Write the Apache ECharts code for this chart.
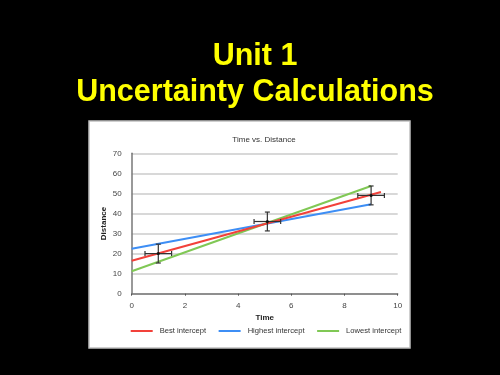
<!DOCTYPE html>
<html>
<head>
<meta charset="utf-8">
<script src="https://cdn.jsdelivr.net/npm/echarts@6/dist/echarts.min.js"></script>
<style>
html,body{margin:0;padding:0;background:#000;}
#c{width:500px;height:375px;}
</style>
</head>
<body>
<div id="c"></div>
<script>
// Data
var seriesNames = ['Best intercept', 'Highest intercept', 'Lowest intercept'];
var bestLine = [[0, 16.4], [9.37, 50.7]];
var highestLine = [[0, 22.4], [9, 44.6]];
var lowestLine = [[0, 11.2], [9, 53.7]];
var pointX = [1, 5.1, 9];
var pointY = [20, 36, 49];
var xError = [0.5, 0.5, 0.5];
var yError = [4.7, 4.7, 4.7];
var xTicks = [0, 2, 4, 6, 8, 10];
var yTicks = [0, 10, 20, 30, 40, 50, 60, 70];

var FONT = '"Liberation Sans", Arial, sans-serif';
var chart = echarts.init(document.getElementById('c'), null, {renderer: 'canvas'});
var pts = pointX.map(function (x, i) { return [x, pointY[i], xError[i], yError[i]]; });

var option = {
  backgroundColor: '#000',
  animation: false,
  graphic: [
    {type: 'rect', shape: {x: 89, y: 121, width: 321, height: 227}, style: {fill: '#fff', stroke: '#c0c0c0', lineWidth: 1.5}, z: -10},
    {type: 'text', x: 255, y: 57, style: {text: 'Unit 1', fill: '#ffff00', align: 'center', verticalAlign: 'middle', font: 'bold 30.5px "Liberation Sans", Arial, sans-serif'}},
    {type: 'text', x: 255, y: 92.5, style: {text: 'Uncertainty Calculations', fill: '#ffff00', align: 'center', verticalAlign: 'middle', font: 'bold 30.5px "Liberation Sans", Arial, sans-serif'}}
  ],
  title: {
    text: 'Time vs. Distance',
    left: 264, top: 136, textAlign: 'center', padding: 0,
    textStyle: {fontSize: 8, fontWeight: 'normal', color: '#333', fontFamily: FONT}
  },
  legend: {
    data: seriesNames,
    left: 130.7, top: 327, padding: 0,
    itemWidth: 22, itemHeight: 2, itemGap: 12.5,
    icon: 'rect',
    textStyle: {fontSize: 7.6, color: '#333', fontFamily: FONT, padding: [0, 0, 0, 2]}
  },
  grid: {left: 131.7, right: 102.3, top: 153.3, bottom: 81.3, containLabel: false},
  xAxis: {
    type: 'value', min: 0, max: 10, interval: 2,
    name: 'Time', nameLocation: 'middle', nameGap: 20, nameMoveOverlap: false,
    nameTextStyle: {fontSize: 8, fontWeight: 'bold', color: '#222', fontFamily: FONT},
    axisLine: {show: true, lineStyle: {color: '#777', width: 1.5}},
    axisTick: {show: true, length: 2, inside: false, lineStyle: {color: '#555'}},
    axisLabel: {fontSize: 8, color: '#444', margin: 8, fontFamily: FONT},
    splitLine: {show: false}
  },
  yAxis: {
    type: 'value', min: 0, max: 70, interval: 10,
    name: 'Distance', nameLocation: 'middle', nameGap: 24, nameRotate: 90, nameMoveOverlap: false,
    nameTextStyle: {fontSize: 8, fontWeight: 'bold', color: '#222', fontFamily: FONT},
    axisLine: {show: true, lineStyle: {color: '#777', width: 1.5}},
    axisTick: {show: false},
    axisLabel: {fontSize: 8, color: '#444', margin: 10, fontFamily: FONT},
    splitLine: {show: true, lineStyle: {color: '#d8d8d8', width: 2}}
  },
  series: [
    {name: seriesNames[1], type: 'line', data: highestLine, showSymbol: false, lineStyle: {color: '#3d8ef5', width: 2}, itemStyle: {color: '#3d8ef5'}, z: 2},
    {name: seriesNames[2], type: 'line', data: lowestLine, showSymbol: false, lineStyle: {color: '#80c855', width: 2}, itemStyle: {color: '#80c855'}, z: 2},
    {name: seriesNames[0], type: 'line', data: bestLine, showSymbol: false, lineStyle: {color: '#f2413a', width: 2}, itemStyle: {color: '#f2413a'}, z: 3},
    {
      name: 'errors', type: 'custom', data: pts, z: 5,
      renderItem: function (params, api) {
        var x = api.value(0), y = api.value(1), ex = api.value(2), ey = api.value(3);
        var c = api.coord([x, y]);
        var l = api.coord([x - ex, y]), r = api.coord([x + ex, y]);
        var t = api.coord([x, y + ey]), b = api.coord([x, y - ey]);
        var st = {stroke: '#333', lineWidth: 1.2};
        var cap = 2.5;
        return {type: 'group', children: [
          {type: 'line', shape: {x1: l[0], y1: l[1], x2: r[0], y2: r[1]}, style: st},
          {type: 'line', shape: {x1: l[0], y1: l[1] - cap, x2: l[0], y2: l[1] + cap}, style: st},
          {type: 'line', shape: {x1: r[0], y1: r[1] - cap, x2: r[0], y2: r[1] + cap}, style: st},
          {type: 'line', shape: {x1: t[0], y1: t[1], x2: b[0], y2: b[1]}, style: st},
          {type: 'line', shape: {x1: t[0] - cap, y1: t[1], x2: t[0] + cap, y2: t[1]}, style: st},
          {type: 'line', shape: {x1: b[0] - cap, y1: b[1], x2: b[0] + cap, y2: b[1]}, style: st},
          {type: 'circle', shape: {cx: c[0], cy: c[1], r: 1.5}, style: {fill: '#111'}}
        ]};
      }
    }
  ]
};
chart.setOption(option);
</script>
</body>
</html>
